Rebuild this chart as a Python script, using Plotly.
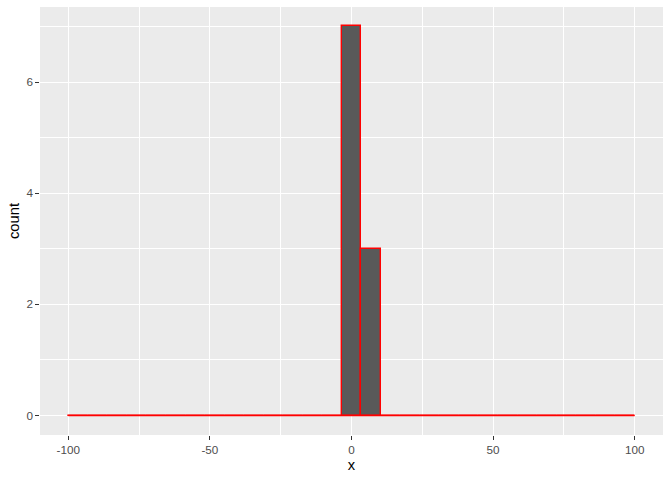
import numpy as np
import plotly.graph_objects as go

# histogram: 29 bins spanning -100..100
bin_start = -100.0
bin_end = 100.0
n_bins = 29
counts = [0]*14 + [7, 3] + [0]*13

edges = np.linspace(bin_start, bin_end, n_bins + 1)
centers = (edges[:-1] + edges[1:]) / 2
widths = np.diff(edges)

x_ticks = [-100, -50, 0, 50, 100]
y_ticks = [0, 2, 4, 6]

fig = go.Figure()
fig.add_trace(go.Bar(
    x=centers, y=counts, width=widths,
    marker=dict(color="#595959", line=dict(color="#FF0000", width=1.4)),
    hoverinfo="skip", showlegend=False,
))
# zero-height bins outline
fig.add_trace(go.Scatter(
    x=[edges[0], edges[-1]], y=[0, 0], mode="lines",
    line=dict(color="#FF0000", width=1.4), hoverinfo="skip", showlegend=False,
))

font = "Liberation Sans, Arial, sans-serif"
fig.update_layout(
    width=672, height=480,
    margin=dict(l=40, r=9, t=7, b=45, autoexpand=False),
    paper_bgcolor="white", plot_bgcolor="#EBEBEB",
    font=dict(family=font),
    bargap=0,
)
fig.update_xaxes(
    range=[-110, 110], tickvals=x_ticks, ticktext=[str(v) for v in x_ticks],
    showgrid=True, gridcolor="white", gridwidth=1.1,
    minor=dict(tickvals=[-75, -25, 25, 75], showgrid=True, gridcolor="white", gridwidth=0.5, ticks=""),
    ticks="outside", ticklen=3.7, tickwidth=1.1, tickcolor="#333333",
    tickfont=dict(size=11.7, color="#4D4D4D"),
    title=dict(text="x", font=dict(size=14.7, color="black"), standoff=4),
    zeroline=False, showline=False, automargin=False,
)
fig.update_yaxes(
    range=[-0.35, 7.35], tickvals=y_ticks, ticktext=[str(v) for v in y_ticks],
    showgrid=True, gridcolor="white", gridwidth=1.1,
    minor=dict(tickvals=[1, 3, 5, 7], showgrid=True, gridcolor="white", gridwidth=0.5, ticks=""),
    ticks="outside", ticklen=3.7, tickwidth=1.1, tickcolor="#333333",
    tickfont=dict(size=11.7, color="#4D4D4D"),
    title=dict(text="count", font=dict(size=14.7, color="black"), standoff=3),
    zeroline=False, showline=False, automargin=False,
)
fig.write_html("out.html", config={"displayModeBar": False},
               post_script="document.body.style.margin='0';document.body.style.overflow='hidden';")
